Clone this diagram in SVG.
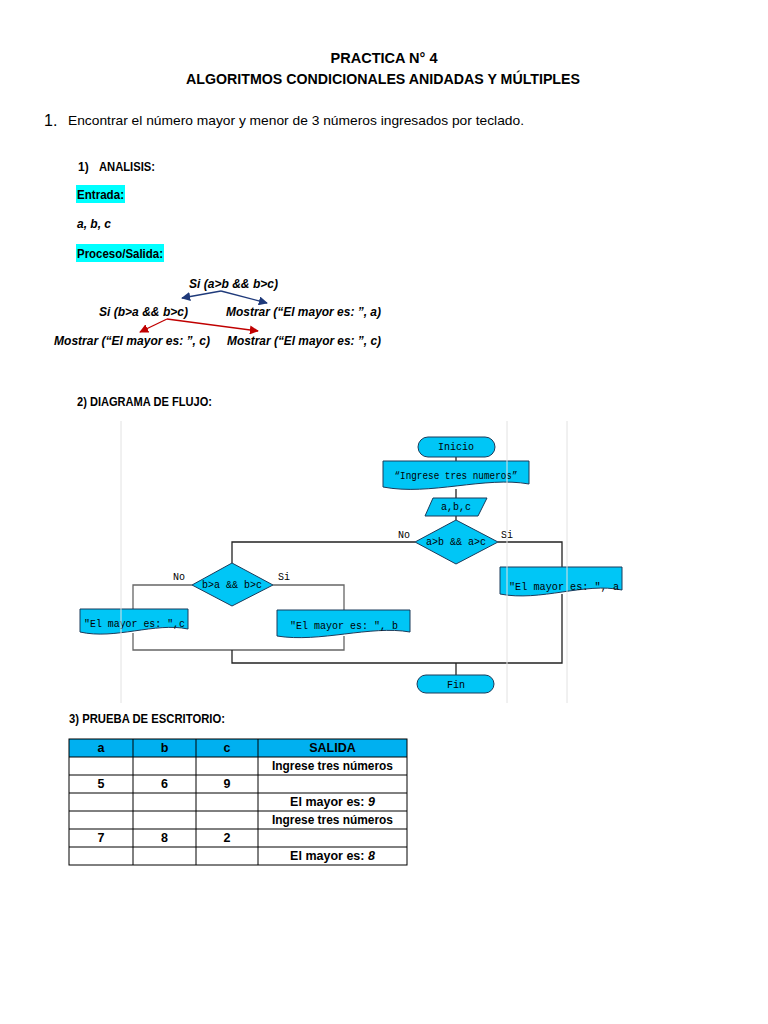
<svg xmlns="http://www.w3.org/2000/svg" width="768" height="1024" viewBox="0 0 768 1024">
<defs>
<style>
.t{font-family:"Liberation Sans",Arial,sans-serif;fill:#000}
.b{font-weight:bold}
.bi{font-weight:bold;font-style:italic}
.m{font-family:"Liberation Mono","Courier New",monospace;font-size:10px;fill:#000}
.shape{fill:#00c6f6;stroke:#1a3a5a;stroke-width:1}
.conn{fill:none;stroke:#222;stroke-width:1.3}
.conn2{fill:none;stroke:#666;stroke-width:1.3}
.page{stroke:#e2e2e2;stroke-width:1}
.cell{fill:none;stroke:#000;stroke-width:1}
</style>
<marker id="ab" viewBox="0 0 10 10" refX="9" refY="5" markerWidth="7" markerHeight="7" orient="auto-start-reverse"><path d="M0,0 L10,5 L0,10 z" fill="#1f3a7a"/></marker>
<marker id="ar" viewBox="0 0 10 10" refX="9" refY="5" markerWidth="7" markerHeight="7" orient="auto-start-reverse"><path d="M0,0 L10,5 L0,10 z" fill="#c00000"/></marker>
</defs>
<rect width="768" height="1024" fill="#fff"/>

<!-- header texts -->
<text class="t b" x="384" y="63" font-size="14" text-anchor="middle" textLength="107" lengthAdjust="spacingAndGlyphs">PRACTICA N° 4</text>
<text class="t b" x="383" y="84" font-size="14" text-anchor="middle" textLength="394" lengthAdjust="spacingAndGlyphs">ALGORITMOS CONDICIONALES ANIDADAS Y MÚLTIPLES</text>
<text class="t" x="44" y="126" font-size="16">1.</text>
<text class="t" x="68" y="125" font-size="13.5" textLength="456" lengthAdjust="spacingAndGlyphs">Encontrar el número mayor y menor de 3 números ingresados por teclado.</text>

<text class="t b" x="78" y="171" font-size="12">1)</text>
<text class="t b" x="99" y="171" font-size="12" textLength="56" lengthAdjust="spacingAndGlyphs">ANALISIS:</text>
<rect x="76" y="185" width="49" height="18" fill="#00ffff"/>
<text class="t b" x="77" y="199" font-size="12.5" textLength="47" lengthAdjust="spacingAndGlyphs" fill="#1a1a1a">Entrada:</text>
<text class="t bi" x="77" y="228" font-size="12.5" textLength="34" lengthAdjust="spacingAndGlyphs">a, b, c</text>
<rect x="76" y="244" width="88" height="18" fill="#00ffff"/>
<text class="t b" x="77" y="258" font-size="12.5" textLength="86" lengthAdjust="spacingAndGlyphs">Proceso/Salida:</text>

<text class="t bi" x="189" y="288" font-size="12.5" textLength="89" lengthAdjust="spacingAndGlyphs">Si (a&gt;b &amp;&amp; b&gt;c)</text>
<text class="t bi" x="99" y="316" font-size="12.5" textLength="89" lengthAdjust="spacingAndGlyphs">Si (b&gt;a &amp;&amp; b&gt;c)</text>
<text class="t bi" x="226" y="316" font-size="12.5" textLength="155" lengthAdjust="spacingAndGlyphs">Mostrar (“El mayor es: ”, a)</text>
<text class="t bi" x="54" y="345" font-size="12.5" textLength="156" lengthAdjust="spacingAndGlyphs">Mostrar (“El mayor es: ”, c)</text>
<text class="t bi" x="227" y="345" font-size="12.5" textLength="154" lengthAdjust="spacingAndGlyphs">Mostrar (“El mayor es: ”, c)</text>
<g id="analysis-arrows" fill="none" stroke-width="1.3">
<path d="M221,291 L182,298" stroke="#1f3a7a" marker-end="url(#ab)"/>
<path d="M221,291 L267,303" stroke="#1f3a7a" marker-end="url(#ab)"/>
<path d="M167,319 L140,332" stroke="#c00000" marker-end="url(#ar)"/>
<path d="M167,319 L258,331" stroke="#c00000" marker-end="url(#ar)"/>
</g>

<text class="t b" x="77" y="406" font-size="12" textLength="135" lengthAdjust="spacingAndGlyphs">2) DIAGRAMA DE FLUJO:</text>

<!-- connectors -->
<g id="connectors">
<path class="conn" d="M456,457 V461"/>
<path class="conn" d="M456,489 V498"/>
<path class="conn" d="M456,516 V520"/>
<path class="conn" d="M415,542 H232 V563"/>
<path class="conn" d="M498,542 H562 V567"/>
<path class="conn2" d="M192,585 H133 V609"/>
<path class="conn2" d="M273,585 H344 V610"/>
<path class="conn2" d="M133,633 V650 H344 V636"/>
<path class="conn" d="M232,650 V663 H562 V594"/>
<path class="conn" d="M456,663 V675"/>
<text class="m" x="398" y="538" font-size="9">No</text>
<text class="m" x="501" y="538" font-size="9">Si</text>
<text class="m" x="173" y="580" font-size="9">No</text>
<text class="m" x="278" y="580" font-size="9">Si</text>
</g>

<!-- nodes -->
<g id="inicio">
<rect class="shape" x="418" y="437" width="77" height="20" rx="10"/>
<text class="m" x="456" y="450" text-anchor="middle">Inicio</text>
</g>
<g id="ingrese">
<path class="shape" d="M383,461 H529 V484 C485,476 430,496 383,487 Z"/>
<text class="m" x="456" y="479" text-anchor="middle" textLength="123" lengthAdjust="spacingAndGlyphs">“Ingrese tres numeros”</text>
</g>
<g id="leer">
<polygon class="shape" points="433,498 487,498 478,516 425,516"/>
<text class="m" x="456" y="510" text-anchor="middle">a,b,c</text>
</g>
<g id="cond1">
<polygon class="shape" points="456,520 498,542 456,564 415,542"/>
<text class="m" x="456" y="545" text-anchor="middle" font-size="9">a&gt;b &amp;&amp; a&gt;c</text>
</g>
<g id="cond2">
<polygon class="shape" points="232,563 273,585 232,606 192,585"/>
<text class="m" x="232" y="588" text-anchor="middle" font-size="9">b&gt;a &amp;&amp; b&gt;c</text>
</g>
<g id="out-a">
<path class="shape" d="M500,567 H622 V590 C585,582 540,602 500,594 Z"/>
<text class="m" x="509" y="590" font-size="10" textLength="110" lengthAdjust="spacingAndGlyphs">"El mayor es: ", a</text>
</g>
<g id="out-c">
<path class="shape" d="M80,609 H188 V629 C155,622 115,640 80,632 Z"/>
<text class="m" x="84" y="627" font-size="10" textLength="101" lengthAdjust="spacingAndGlyphs">"El mayor es: ",c</text>
</g>
<g id="out-b">
<path class="shape" d="M277,610 H410 V632 C370,625 320,643 277,636 Z"/>
<text class="m" x="290" y="629" font-size="10" textLength="108" lengthAdjust="spacingAndGlyphs">"El mayor es: ", b</text>
</g>
<g id="fin">
<rect class="shape" x="417" y="675" width="77" height="18" rx="9"/>
<text class="m" x="456" y="688" text-anchor="middle">Fin</text>
</g>

<!-- page artifact lines (drawn over, faint) -->
<g id="page-lines">
<line class="page" x1="121" y1="421" x2="121" y2="703"/>
<line class="page" x1="507" y1="421" x2="507" y2="703"/>
<line class="page" x1="567" y1="421" x2="567" y2="703"/>
</g>

<!-- table -->
<text class="t b" x="69" y="723" font-size="12" textLength="156" lengthAdjust="spacingAndGlyphs">3) PRUEBA DE ESCRITORIO:</text>
<g id="table">
<rect x="69" y="739" width="338" height="18" fill="#00b0f0"/>
<rect class="cell" x="69" y="739" width="338" height="126"/>
<g stroke="#000" stroke-width="1">
<line x1="133" y1="739" x2="133" y2="865"/>
<line x1="196" y1="739" x2="196" y2="865"/>
<line x1="258" y1="739" x2="258" y2="865"/>
<line x1="69" y1="757" x2="407" y2="757"/>
<line x1="69" y1="775" x2="407" y2="775"/>
<line x1="69" y1="793" x2="407" y2="793"/>
<line x1="69" y1="811" x2="407" y2="811"/>
<line x1="69" y1="829" x2="407" y2="829"/>
<line x1="69" y1="847" x2="407" y2="847"/>
</g>
<g class="t b" font-size="12.5" text-anchor="middle">
<text x="101" y="752">a</text>
<text x="164.5" y="752">b</text>
<text x="227" y="752">c</text>
<text x="332.5" y="752">SALIDA</text>
<text x="332.5" y="770" textLength="121" lengthAdjust="spacingAndGlyphs">Ingrese tres números</text>
<text x="101" y="788">5</text>
<text x="164.5" y="788">6</text>
<text x="227" y="788">9</text>
<text x="332.5" y="806">El mayor es: <tspan font-style="italic">9</tspan></text>
<text x="332.5" y="824" textLength="121" lengthAdjust="spacingAndGlyphs">Ingrese tres números</text>
<text x="101" y="842">7</text>
<text x="164.5" y="842">8</text>
<text x="227" y="842">2</text>
<text x="332.5" y="860">El mayor es: <tspan font-style="italic">8</tspan></text>
</g>
</g>
</svg>
